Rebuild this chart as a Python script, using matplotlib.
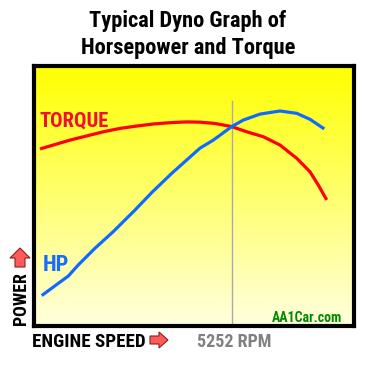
import numpy as np
import matplotlib
matplotlib.use("Agg")
import matplotlib.pyplot as plt
from matplotlib.patches import Polygon
from matplotlib import font_manager as fm

# ---- data ----
torque_rpm = [159, 513, 956, 1400, 1841, 2284, 2728, 3169, 3613, 4056, 4409, 4808,
              5252, 5650, 6091, 6534, 6978, 7331, 7552, 7775]
torque_val = [68.1, 69.6, 71.5, 73.1, 74.7, 76.0, 76.9, 77.7, 78.2, 78.5, 78.4, 77.9,
              76.7, 74.7, 72.8, 69.6, 64.5, 59.3, 54.2, 48.5]
hp_rpm = [205, 645, 911, 1177, 1620, 2106, 2683, 3126, 3658, 4409, 4763,
          5252, 5560, 6003, 6534, 6978, 7331, 7711]
hp_val = [11.7, 16.4, 19.2, 23.5, 29.9, 36.3, 44.6, 51.3, 58.7, 68.4, 71.5,
          76.7, 79.2, 81.5, 82.7, 81.8, 79.5, 75.8]
cross_rpm = 5252
title_lines = ["Typical Dyno Graph of", "Horsepower and Torque"]

W, H = 384, 375
fig = plt.figure(figsize=(W / 100, H / 100), dpi=100)
fig.patch.set_facecolor("white")

# pick a condensed bold face if one is installed, else Arial-metric Liberation Sans
def pick_font():
    prefs = ["LiberationSansNarrow-Bold", "RobotoCondensed-Bold", "DejaVuSansCondensed-Bold",
             "OpenSans_Condensed-Bold", "OpenSansCondensed-Bold"]
    files = [f.fname for f in fm.fontManager.ttflist]
    for p in prefs:
        for fn in files:
            if p.lower() in fn.lower().replace(" ", ""):
                return fm.FontProperties(fname=fn)
    return fm.FontProperties(family="Liberation Sans", weight="bold")

BASEFP = pick_font()

def fx(px):
    return px / W

def fy(py):
    return 1 - py / H

ax = fig.add_axes([fx(34), fy(326), (354 - 34) / W, (326 - 66) / H])
ax.set_xlim(0, 8500)
ax.set_ylim(0, 100)

# gradient background
grad = np.linspace(0, 1, 256).reshape(-1, 1)
top = np.array([1.0, 1.0, 0.0])
bot = np.array([1.0, 1.0, 0.87])
img = top[None, None, :] * (1 - grad[:, :, None]) + bot[None, None, :] * grad[:, :, None]
ax.imshow(img, extent=[0, 8500, 0, 100], aspect="auto", origin="upper", zorder=0)

ax.plot(torque_rpm, torque_val, color="#ff0000", lw=2.3, zorder=3,
        solid_capstyle="butt", solid_joinstyle="round")
ax.plot(hp_rpm, hp_val, color="#0f6bff", lw=2.3, zorder=3,
        solid_capstyle="butt", solid_joinstyle="round")
ax.plot([cross_rpm, cross_rpm], [0, 86.5], color="#aaaaaa", lw=1.0, zorder=2)

for s in ax.spines.values():
    s.set_linewidth(3.0)
    s.set_color("black")
ax.set_xticks([])
ax.set_yticks([])

texts = []

def add_text(s, x, y, ha, color, target_w, cap_h, rot=0):
    fp = BASEFP.copy()
    size = cap_h / 0.716 * 72 / 100
    fp.set_size(size)
    if rot:
        t = fig.text(fx(x), fy(y), s, fontproperties=fp, color=color, rotation=90,
                     ha=ha, va="baseline", rotation_mode="anchor")
    else:
        t = fig.text(fx(x), fy(y), s, fontproperties=fp, color=color, ha=ha, va="baseline")
    texts.append((t, target_w, size, rot))
    return t

add_text(title_lines[0], 188, 26.5, "center", "black", 209, 16)
add_text(title_lines[1], 188, 54, "center", "black", 224, 16)
add_text("TORQUE", 40, 127, "left", "#ee1133", 70, 15)
add_text("HP", 43, 271, "left", "#1a6cff", 27, 16)
add_text("AA1Car.com", 342, 322, "right", "#008800", 70, 12)
add_text("ENGINE SPEED", 32, 347, "left", "black", 113, 14)
add_text(f"{cross_rpm} RPM", 197, 347, "left", "#808080", 74, 14)
add_text("POWER", 26, 325, "left", "black", 53, 13, rot=90)

fig.canvas.draw()
r = fig.canvas.get_renderer()
for t, tw, size, rot in texts:
    bb = t.get_window_extent(r)
    w = bb.height if rot else bb.width
    new = min(size, size * tw / w)
    t.set_fontsize(new)

# arrows (decoration)
arr_fc = "#ff5a5a"
arr_ec = "#8a2020"
right_arrow = [(150, 336), (159, 336), (159, 332), (168, 340), (159, 348), (159, 344), (150, 344)]
up_arrow = [(15, 267), (15, 258), (10, 258), (20, 248), (30, 258), (25, 258), (25, 267)]
for pts in (right_arrow, up_arrow):
    poly = Polygon([(fx(x), fy(y)) for x, y in pts], closed=True, transform=fig.transFigure,
                   facecolor=arr_fc, edgecolor=arr_ec, lw=0.8)
    fig.patches.append(poly)

fig.savefig("out.png", dpi=100)
